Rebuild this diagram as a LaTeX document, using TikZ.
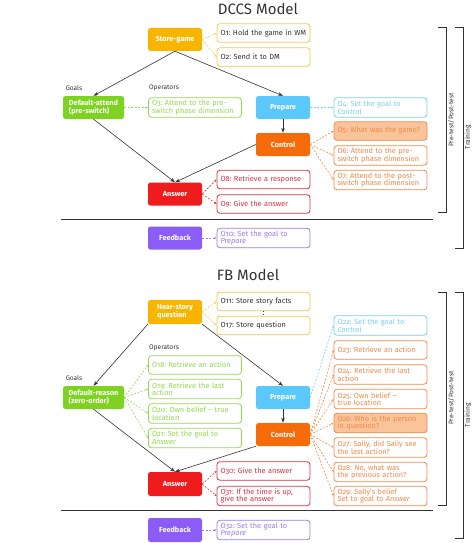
\documentclass[tikz,border=0pt]{standalone}
\usepackage{fontspec}
\setmainfont{Fira Sans}[Numbers=OldStyle]
\usetikzlibrary{arrows.meta,positioning}
\frenchspacing

\definecolor{yelFill}{HTML}{F7B500}
\definecolor{yelLine}{HTML}{F2C94C}
\definecolor{grnFill}{HTML}{7ED321}
\definecolor{grnLine}{HTML}{94D852}
\definecolor{bluFill}{HTML}{5AC8FA}
\definecolor{bluLine}{HTML}{7CCFF2}
\definecolor{oraFill}{HTML}{F56B0A}
\definecolor{oraLine}{HTML}{F08A4B}
\definecolor{oraSoft}{HTML}{F9C49A}
\definecolor{redFill}{HTML}{EE1C1C}
\definecolor{redLine}{HTML}{D8323F}
\definecolor{purFill}{HTML}{8B5CF6}
\definecolor{purLine}{HTML}{9B7BF0}
\definecolor{inkGrey}{HTML}{333333}

\tikzset{
  goal/.style={rectangle,rounded corners=2.5pt,minimum width=54pt,minimum height=23pt,
    inner sep=1pt,text=white,align=left,font=\fontsize{7.3}{8}\selectfont\bfseries},
  op/.style={rectangle,rounded corners=3pt,draw,line width=0.8pt,fill=white,
    text width=86pt,minimum height=18.5pt,inner xsep=3.5pt,inner ysep=1pt,
    align=left,font=\fontsize{7.4}{7.6}\selectfont},
  opYel/.style={op,draw=yelLine,text=inkGrey},
  opGrn/.style={op,draw=grnLine,text=grnLine},
  opBlu/.style={op,draw=bluLine,text=bluLine},
  opOra/.style={op,draw=oraLine,text=oraLine},
  opRed/.style={op,draw=redLine,text=redLine},
  opPur/.style={op,draw=purLine,text=purLine},
  link/.style={dash pattern=on 2pt off 1.5pt,line width=0.6pt,-{Stealth[length=2.5pt,width=2pt]}},
  flow/.style={-{Stealth[length=5pt,width=3.5pt]},line width=0.6pt,inkGrey},
  title/.style={font=\fontsize{15}{16}\selectfont,text=inkGrey},
  tag/.style={font=\fontsize{6.6}{7}\selectfont,text=inkGrey},
  bracket/.style={line width=0.9pt,inkGrey},
}

\begin{document}
\begin{tikzpicture}[x=1pt,y=-1pt]
\useasboundingbox (0,0) rectangle (474,543);

% ---------------- DCCS model
\node[title] (titleA) at (258,9) {DCCS Model};

\node[goal,fill=yelFill] (store) at (175,39.5) {Store-game};
\node[opYel] (o1) at (263.5,33) {O1: Hold the game in WM};
\node[opYel] (o2) at (263.5,57) {O2: Send it to DM};

\node[tag] (goalsA) at (74,88) {Goals};
\node[tag] (opsA) at (164,88) {Operators};

\node[goal,fill=grnFill,minimum width=61pt] (attend) at (93.5,107.5) {Default-attend\\(pre-switch)};
\node[opGrn,minimum height=19.5pt] (o3) at (195,107.5) {O3: Attend to the pre-\\switch phase dimension};

\node[goal,fill=bluFill] (prep) at (283,107.5) {Prepare};
\node[opBlu,minimum height=19.5pt] (o4) at (380.5,107.5) {O4: Set the goal to\\\textit{Control}};

\node[goal,fill=oraFill] (ctrl) at (283,144.5) {Control};
\node[opOra,fill=oraSoft] (o5) at (380.5,131) {O5: What was the game?};
\node[opOra,minimum height=19.5pt] (o6) at (380.5,155.5) {O6: Attend to the pre-\\switch phase dimension};
\node[opOra,minimum height=19.5pt] (o7) at (380.5,180) {O7: Attend to the post-\\switch phase dimension};

\node[goal,fill=redFill] (ans) at (175,194) {Answer};
\node[opRed] (o8) at (263.5,179.5) {O8: Retrieve a response};
\node[opRed] (o9) at (263.5,204) {O9: Give the answer};

\node[goal,fill=purFill] (fbk) at (175,238) {Feedback};
\node[opPur,minimum height=19.5pt] (o10) at (263.5,238) {O10: Set the goal to\\\textit{Prepare}};

\draw[flow] (store.south) -- (attend.north);
\draw[flow] (store.south) -- (prep.north);
\draw[flow] (attend.south) -- (ans.north);
\draw[flow] (prep.south) -- (ctrl.north);
\draw[flow] (ctrl.west) -- (ans.north);

\draw[link,yelLine] (store.east) -- (o1.west);
\draw[link,yelLine] (store.east) -- (o2.west);
\draw[link,grnLine] (attend.east) -- (o3.west);
\draw[link,bluLine] (prep.east) -- (o4.west);
\foreach \n in {o5,o6,o7}
  \draw[link,oraLine] (ctrl.east) -- (\n.west);
\draw[link,redLine] (ans.east) -- (o8.west);
\draw[link,redLine] (ans.east) -- (o9.west);
\draw[link,purLine] (fbk.east) -- (o10.west);

\draw[line width=0.9pt,inkGrey] (61,219) -- (433,219);

% brackets
\draw[bracket] (438,27) -- (446,27) -- (446,212) -- (438,212);
\draw[bracket] (455,27) -- (463,27) -- (463,248) -- (455,248);
\node[tag,rotate=90] (preA) at (451,120) {Pre-test/Post-test};
\node[tag,rotate=90] (trainA) at (468,137) {Training};

% ---------------- FB model
\node[title] (titleB) at (248,275) {FB Model};

\node[goal,fill=yelFill,minimum height=24pt] (hear) at (175,312) {Hear-story\\question};
\node[opYel] (o11) at (263.5,301.5) {O11: Store story facts};
\node[opYel] (o17) at (263.5,325.5) {O17: Store question};
\draw[inkGrey,line width=0.8pt,dotted] (o11.south) -- (o17.north);

\node[tag] (opsB) at (164,348) {Operators};
\node[tag] (goalsB) at (74,378) {Goals};

\node[goal,fill=grnFill,minimum width=61pt] (reason) at (93.5,397.5) {Default-reason\\(zero-order)};
\node[opGrn] (o18) at (195,365) {O18: Retrieve an action};
\node[opGrn,minimum height=19.5pt] (o19) at (195,389) {O19: Retrieve the last\\action};
\node[opGrn,minimum height=19.5pt] (o20) at (195,413.5) {O20: Own belief -- true\\location};
\node[opGrn,minimum height=19.5pt] (o21) at (195,438) {O21: Set the goal to\\\textit{Answer}};

\node[goal,fill=bluFill] (prepB) at (283,397.5) {Prepare};
\node[goal,fill=oraFill] (ctrlB) at (283,434.5) {Control};

\node[opBlu,minimum height=19.5pt] (o22) at (380.5,325.5) {O22: Set the goal to\\\textit{Control}};
\node[opOra] (o23) at (380.5,350) {O23: Retrieve an action};
\node[opOra,minimum height=19.5pt] (o24) at (380.5,374.5) {O24: Retrieve the last\\action};
\node[opOra,minimum height=19.5pt] (o25) at (380.5,399) {O25: Own belief --\\true location};
\node[opOra,fill=oraSoft,minimum height=19.5pt] (o26) at (380.5,423) {O26: Who is the person\\in question?};
\node[opOra,minimum height=19.5pt] (o27) at (380.5,447.5) {O27: Sally, did Sally see\\the last action?};
\node[opOra,minimum height=19.5pt] (o28) at (380.5,472) {O28: No, what was\\the previous action?};
\node[opOra,minimum height=19.5pt] (o29) at (380.5,496) {O29: Sally's belief\\Set to goal to \textit{Answer}};

\node[goal,fill=redFill,minimum height=24pt] (ansB) at (175,484) {Answer};
\node[opRed] (o30) at (263.5,471) {O30: Give the answer};
\node[opRed,minimum height=19.5pt] (o31) at (263.5,496) {O31: If the time is up,\\give the answer};

\node[goal,fill=purFill,minimum height=24pt] (fbB) at (175,530) {Feedback};
\node[opPur,minimum height=19.5pt] (o32) at (263.5,530) {O32: Set the goal to\\\textit{Prepare}};

\draw[flow] (hear.south west) -- (reason.north);
\draw[flow] (hear.south east) -- (prepB.north);
\draw[flow] (reason.south) -- (ansB.north);
\draw[flow] (prepB.south) -- (ctrlB.north);
\draw[flow] (ctrlB.south west) -- (ansB.north);

\draw[link,yelLine] (hear.east) -- (o11.west);
\draw[link,yelLine] (hear.east) -- (o17.west);
\foreach \n in {o18,o19,o20,o21}
  \draw[link,grnLine] (reason.east) -- (\n.west);
\draw[link,bluLine] (prepB.east) -- (o22.west);
\foreach \n in {o23,o24,o25,o26,o27,o28,o29}
  \draw[link,oraLine] (ctrlB.east) -- (\n.west);
\draw[link,redLine] (ansB.east) -- (o30.west);
\draw[link,redLine] (ansB.east) -- (o31.west);
\draw[link,purLine] (fbB.east) -- (o32.west);

\draw[line width=0.9pt,inkGrey] (61,510.5) -- (433,510.5);

% brackets
\draw[bracket] (438,292) -- (446,292) -- (446,505) -- (438,505);
\draw[bracket] (455,292) -- (463,292) -- (463,538) -- (455,538);
\node[tag,rotate=90] (preB) at (451,398) {Pre-test/Post-test};
\node[tag,rotate=90] (trainB) at (468,415) {Training};
\end{tikzpicture}
\end{document}
